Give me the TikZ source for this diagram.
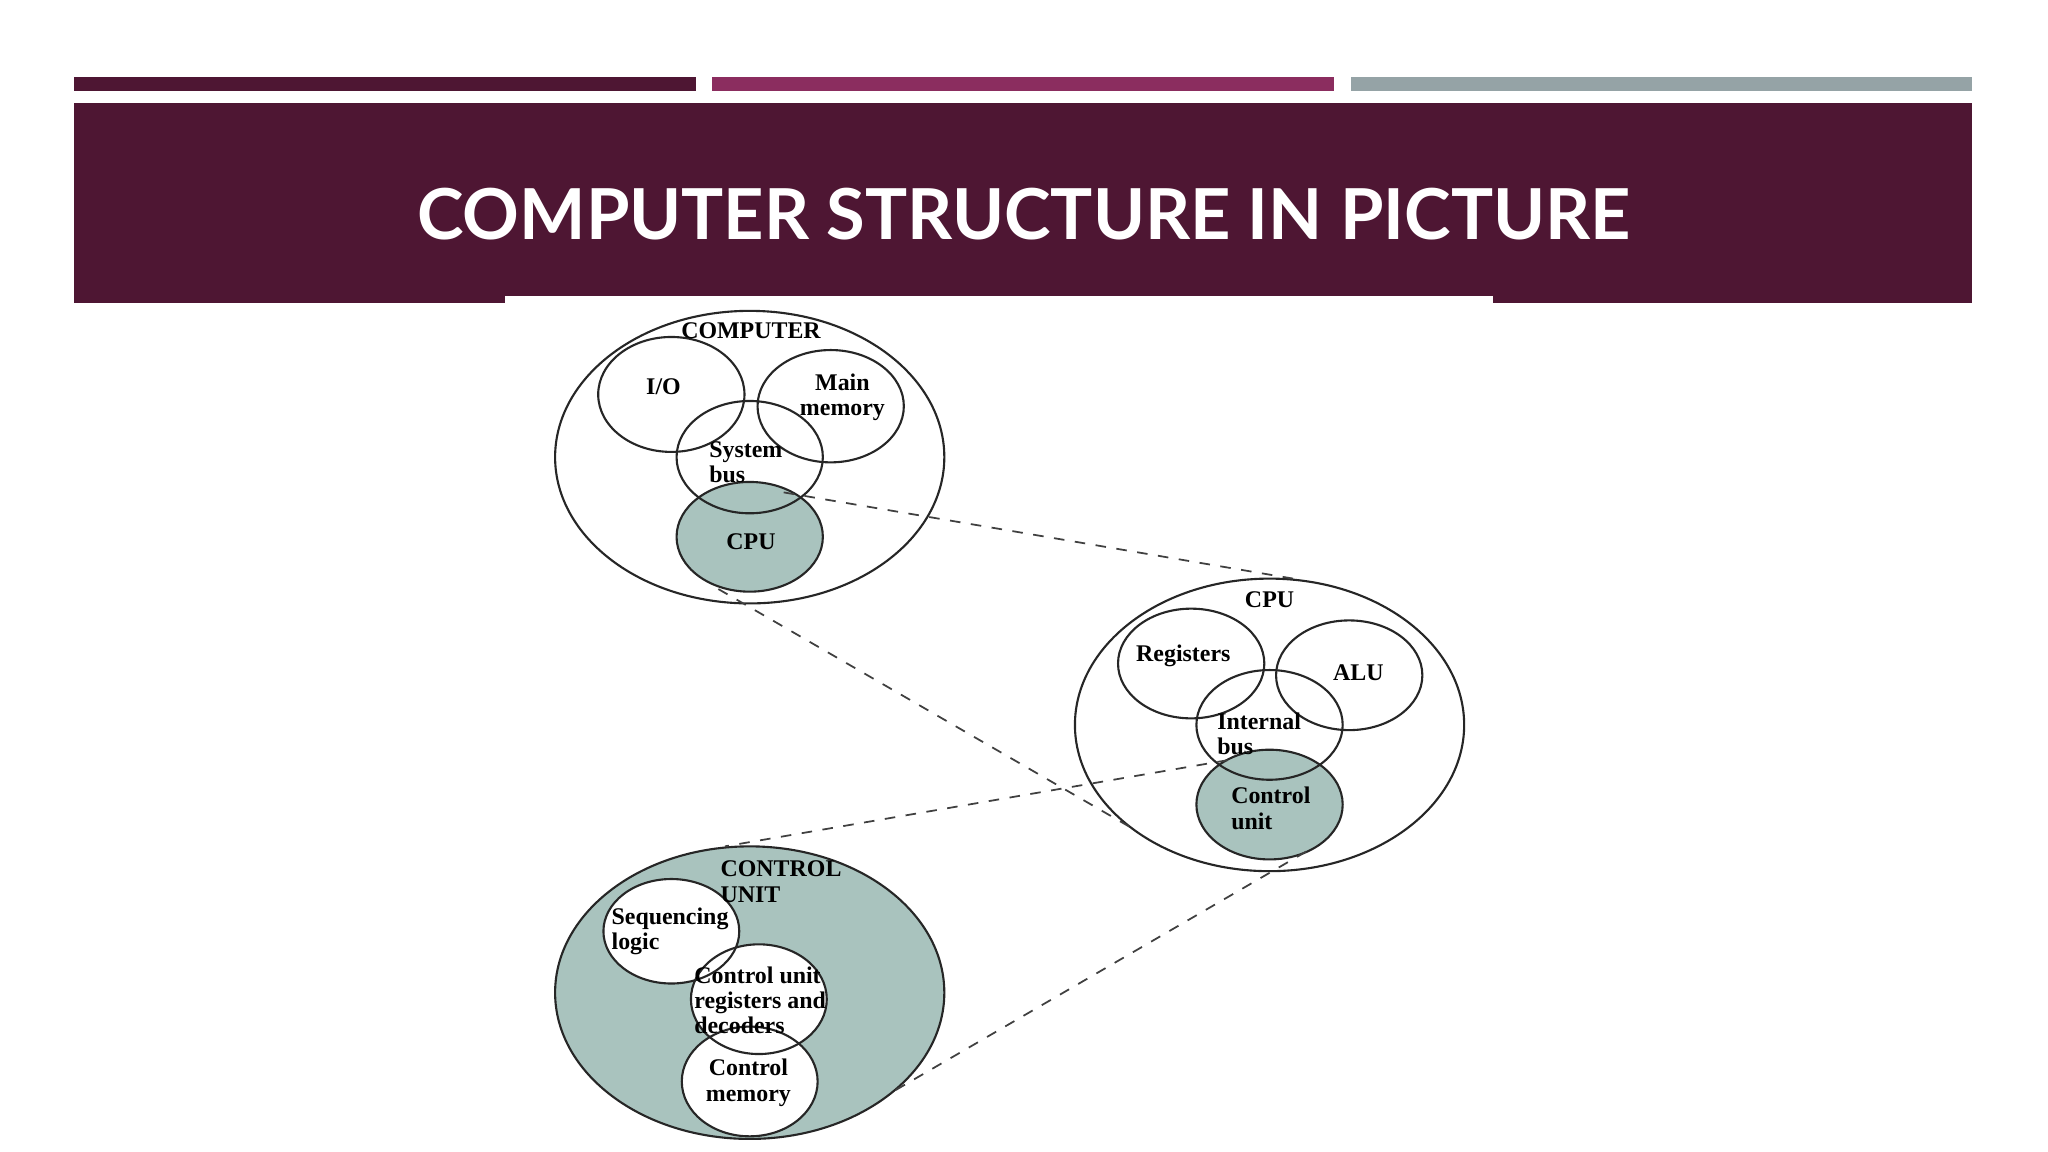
\documentclass[tikz,border=0pt]{standalone}
\usepackage{fontspec}
\setmainfont{Liberation Serif}
\newfontfamily\titlefont{Lato}
\definecolor{dark}{HTML}{4E1633}
\definecolor{mag}{HTML}{8B2D5F}
\definecolor{grayb}{HTML}{95A3A6}
\definecolor{teal}{HTML}{A9C3BE}
\tikzset{lbl/.style={font=\bfseries\fontsize{6.8}{7.2}\selectfont,align=left,inner sep=0pt},
 ring/.style={draw=black!85,line width=0.6pt},
 dl/.style={draw=black!75,dashed,line width=0.5pt}}
\begin{document}
\begin{tikzpicture}[x=0.013061cm,y=-0.013061cm]
\useasboundingbox (0,0) rectangle (1568,882);
\fill[white] (0,0) rectangle (1568,882);
\fill[dark] (57,59) rectangle (533,70);
\fill[mag] (545,59) rectangle (1021,70);
\fill[grayb] (1034,59) rectangle (1510,70);
\fill[dark] (57,79) rectangle (1510,232);
\fill[white] (387,227) rectangle (1143,232);
\node[text=white,font=\titlefont\bfseries\fontsize{20}{20}\selectfont] (title) at (784,164) {COMPUTER STRUCTURE IN PICTURE};
% fills
\fill[teal] (574,411) ellipse [x radius=56,y radius=42];
\fill[teal] (972,616) ellipse [x radius=56,y radius=42];
\fill[teal] (574,760) ellipse [x radius=149,y radius=112];
\fill[white] (514,713) ellipse [x radius=52,y radius=40];
\fill[white] (581,765) ellipse [x radius=52,y radius=42];
\fill[white] (574,828) ellipse [x radius=52,y radius=42];
% outlines
\draw[ring] (574,350) ellipse [x radius=149,y radius=112];
\draw[ring] (514,302) ellipse [x radius=56,y radius=44];
\draw[ring] (636,311) ellipse [x radius=56,y radius=43];
\draw[ring] (574,350) ellipse [x radius=56,y radius=43];
\draw[ring] (574,411) ellipse [x radius=56,y radius=42];
\draw[ring] (972,555) ellipse [x radius=149,y radius=112];
\draw[ring] (912,508) ellipse [x radius=56,y radius=42];
\draw[ring] (1033,517) ellipse [x radius=56,y radius=42];
\draw[ring] (972,555) ellipse [x radius=56,y radius=42];
\draw[ring] (972,616) ellipse [x radius=56,y radius=42];
\draw[ring] (574,760) ellipse [x radius=149,y radius=112];
\draw[ring] (514,713) ellipse [x radius=52,y radius=40];
\draw[ring] (581,765) ellipse [x radius=52,y radius=42];
\draw[ring] (574,828) ellipse [x radius=52,y radius=42];
% labels
\node[lbl] (l1) at (575,253) {COMPUTER};
\node[lbl] (l2) at (508,296) {I/O};
\node[lbl,align=center] (l3) at (645,304) {Main\\memory};
\node[lbl] (l4) at (571,354) {System\\bus};
\node[lbl] (l5) at (575,415) {CPU};
\node[lbl] (l6) at (972,459) {CPU};
\node[lbl] (l7) at (906,502) {Registers};
\node[lbl] (l8) at (1040,515) {ALU};
\node[lbl] (l9) at (964,562) {Internal\\bus};
\node[lbl] (l10) at (973,619) {Control\\unit};
\node[lbl] (l11) at (598,675) {CONTROL\\UNIT};
\node[lbl] (l12) at (513,713) {Sequencing\\logic};
\node[lbl] (l13) at (582,766) {Control unit\\registers and\\decoders};
\node[lbl,align=center] (l14) at (573,829) {Control\\memory};
\coordinate (a1) at (600,377); \coordinate (a2) at (990,443);
\coordinate (b1) at (550,451); \coordinate (b2) at (870,636);
\coordinate (c1) at (940,582); \coordinate (c2) at (555,648);
\coordinate (d1) at (1000,652); \coordinate (d2) at (685,835);
\draw[dl] (a1) -- (a2); \draw[dl] (b1) -- (b2);
\draw[dl] (c1) -- (c2); \draw[dl] (d1) -- (d2);
\end{tikzpicture}
\end{document}
